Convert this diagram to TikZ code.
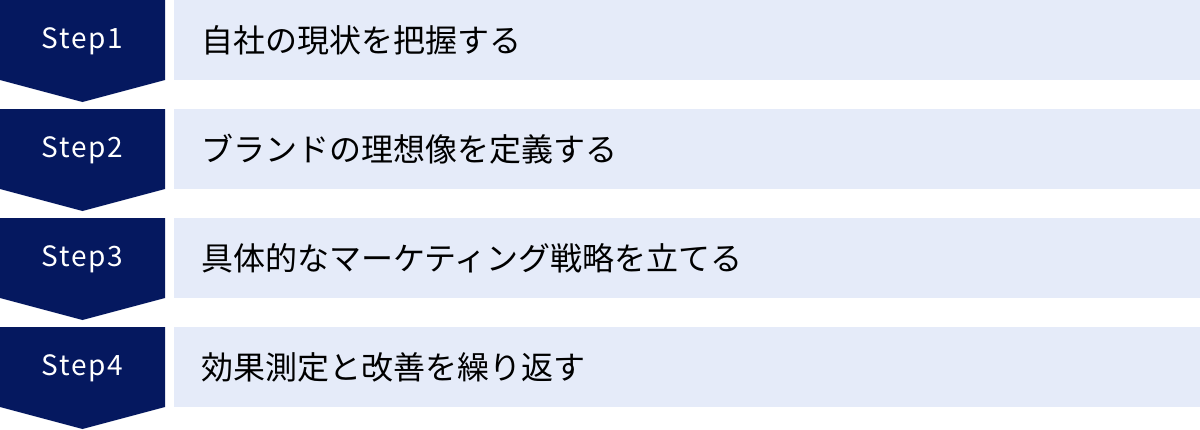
\documentclass[tikz,border=0pt]{standalone}
\usepackage{fontspec}
\setmainfont{Noto Sans CJK JP}
\newfontfamily\jpfont{Noto Sans CJK JP}
\definecolor{navy}{HTML}{05185F}
\definecolor{paleblue}{HTML}{E5EBF9}
\tikzset{
  chev/.style={fill=navy, draw=none},
  band/.style={fill=paleblue, draw=none},
  steplabel/.style={text=white, font=\fontsize{28}{32}\selectfont\addfontfeatures{LetterSpace=6}, inner sep=0pt},
  desc/.style={text=black, font=\jpfont\fontsize{32}{36}\selectfont, anchor=west, inner sep=0pt},
}
\begin{document}
\begin{tikzpicture}[x=1pt,y=-1pt]
\useasboundingbox (0,0) rectangle (1200,429);
\foreach \i/\t in {0/自社の現状を把握する,1/ブランドの理想像を定義する,2/具体的なマーケティング戦略を立てる,3/効果測定と改善を繰り返す}{
  \pgfmathsetmacro{\yo}{109*\i}
  \fill[chev] (0,\yo) -- (165,\yo) -- (165,\yo+80) -- (82.5,\yo+102) -- (0,\yo+80) -- cycle;
  \fill[band] (174,\yo) rectangle (1200,\yo+80);
  \pgfmathtruncatemacro{\n}{\i+1}
  \node[steplabel] (s\n) at (82.5,\yo+41.5) {Step\n};
  \node[desc] (d\n) at (201,\yo+40) {\t};
}
\end{tikzpicture}
\end{document}
